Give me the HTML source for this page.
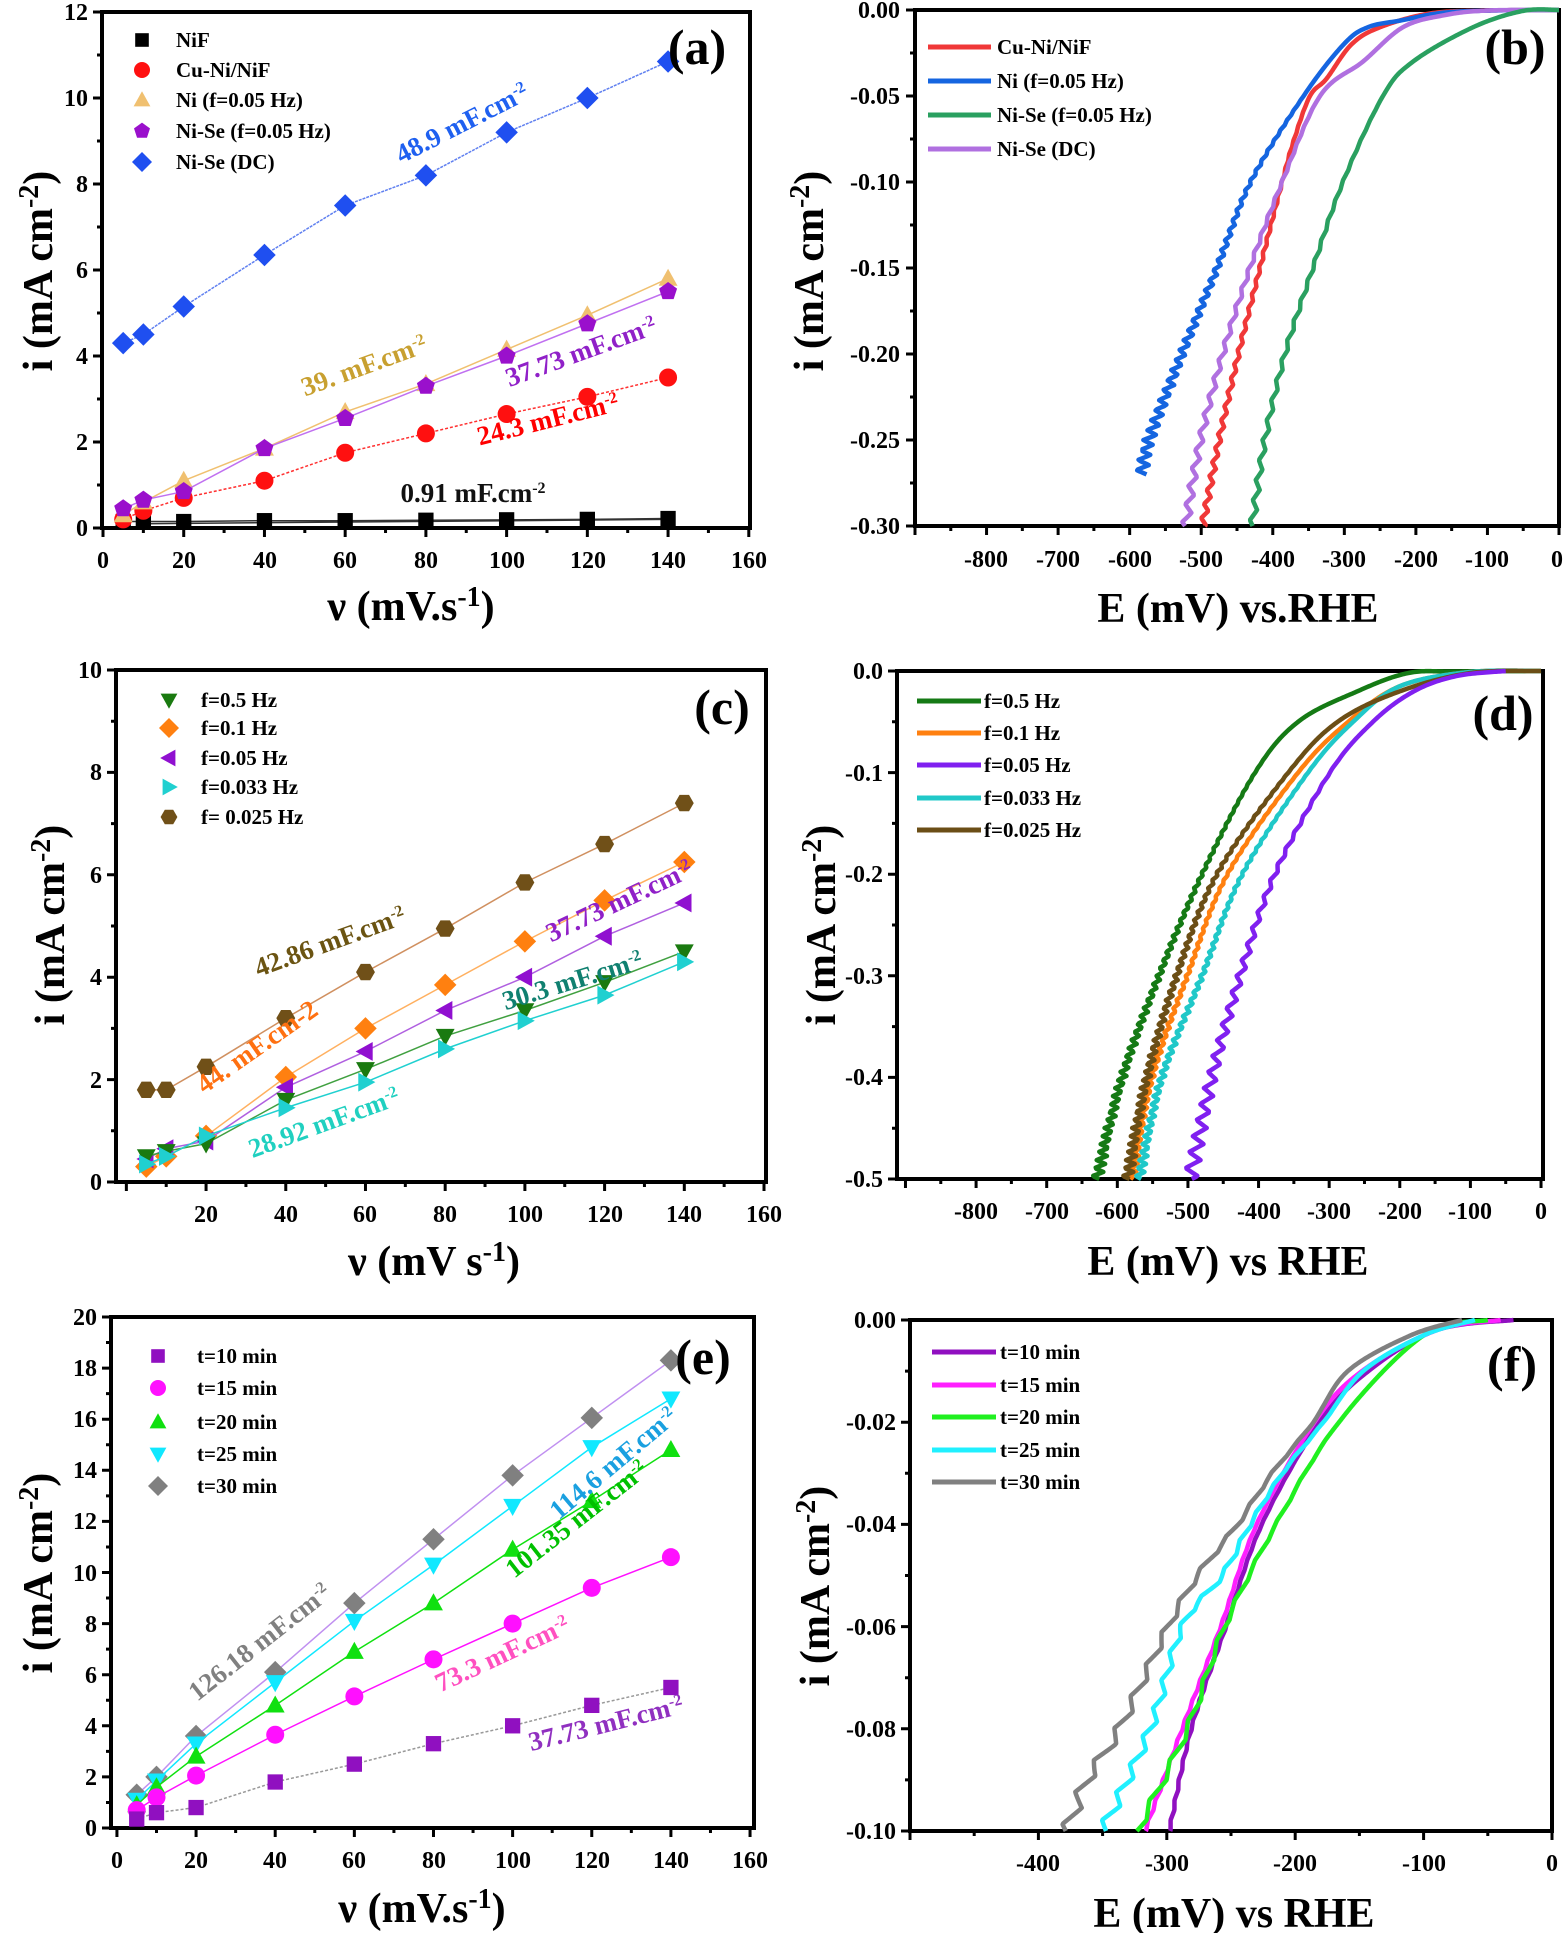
<!DOCTYPE html>
<html><head><meta charset="utf-8"><style>
body{margin:0;background:#fff}
svg{display:block}
text{font-family:"Liberation Serif",serif;font-weight:bold}
.tk{font-size:24px}
.tl{font-size:42px}
.lg{font-size:21px}
.an{font-size:27px}
.pl{font-size:50px}
</style></head><body>
<svg id="s" width="1567" height="1933" viewBox="0 0 1567 1933" xmlns="http://www.w3.org/2000/svg">
<rect width="1567" height="1933" fill="#fff"/>
<g id="g"></g>
<g class="tk" text-anchor="middle">
<text x="103" y="568">0</text><text x="184" y="568">20</text><text x="265" y="568">40</text><text x="345" y="568">60</text><text x="426" y="568">80</text><text x="507" y="568">100</text><text x="588" y="568">120</text><text x="668" y="568">140</text><text x="749" y="568">160</text>
<text x="986" y="567">-800</text><text x="1058" y="567">-700</text><text x="1130" y="567">-600</text><text x="1201" y="567">-500</text><text x="1273" y="567">-400</text><text x="1344" y="567">-300</text><text x="1416" y="567">-200</text><text x="1487" y="567">-100</text><text x="1557" y="567">0</text>
<text x="206" y="1222">20</text><text x="286" y="1222">40</text><text x="365" y="1222">60</text><text x="445" y="1222">80</text><text x="525" y="1222">100</text><text x="605" y="1222">120</text><text x="684" y="1222">140</text><text x="764" y="1222">160</text>
<text x="976" y="1219">-800</text><text x="1047" y="1219">-700</text><text x="1117" y="1219">-600</text><text x="1188" y="1219">-500</text><text x="1259" y="1219">-400</text><text x="1329" y="1219">-300</text><text x="1400" y="1219">-200</text><text x="1470" y="1219">-100</text><text x="1541" y="1219">0</text>
<text x="117" y="1868">0</text><text x="196" y="1868">20</text><text x="275" y="1868">40</text><text x="354" y="1868">60</text><text x="434" y="1868">80</text><text x="513" y="1868">100</text><text x="592" y="1868">120</text><text x="671" y="1868">140</text><text x="750" y="1868">160</text>
<text x="1038" y="1871">-400</text><text x="1167" y="1871">-300</text><text x="1295" y="1871">-200</text><text x="1424" y="1871">-100</text><text x="1552" y="1871">0</text>
</g>
<g class="tk" text-anchor="end">
<text x="88" y="536">0</text><text x="88" y="450">2</text><text x="88" y="364">4</text><text x="88" y="278">6</text><text x="88" y="192">8</text><text x="88" y="106">10</text><text x="88" y="20">12</text>
<text x="900" y="18">0.00</text><text x="900" y="104">-0.05</text><text x="900" y="190">-0.10</text><text x="900" y="276">-0.15</text><text x="900" y="362">-0.20</text><text x="900" y="448">-0.25</text><text x="900" y="534">-0.30</text>
<text x="102" y="1190">0</text><text x="102" y="1088">2</text><text x="102" y="985">4</text><text x="102" y="883">6</text><text x="102" y="780">8</text><text x="102" y="678">10</text>
<text x="883" y="679">0.0</text><text x="883" y="781">-0.1</text><text x="883" y="882">-0.2</text><text x="883" y="984">-0.3</text><text x="883" y="1085">-0.4</text><text x="883" y="1187">-0.5</text>
<text x="97" y="1836">0</text><text x="97" y="1785">2</text><text x="97" y="1734">4</text><text x="97" y="1683">6</text><text x="97" y="1632">8</text><text x="97" y="1581">10</text><text x="97" y="1529">12</text><text x="97" y="1478">14</text><text x="97" y="1427">16</text><text x="97" y="1376">18</text><text x="97" y="1325">20</text>
<text x="896" y="1328">0.00</text><text x="896" y="1430">-0.02</text><text x="896" y="1532">-0.04</text><text x="896" y="1635">-0.06</text><text x="896" y="1737">-0.08</text><text x="896" y="1839">-0.10</text>
</g>
<g class="tl" text-anchor="middle">
<text transform="translate(52,271) rotate(-90)">i (mA cm<tspan dy="-14" font-size="28">-2</tspan><tspan dy="14">)</tspan></text>
<text x="411" y="620">ν (mV.s<tspan dy="-14" font-size="28">-1</tspan><tspan dy="14">)</tspan></text>
<text transform="translate(823,271) rotate(-90)">i (mA cm<tspan dy="-14" font-size="28">-2</tspan><tspan dy="14">)</tspan></text>
<text x="1238" y="622">E (mV) vs.RHE</text>
<text transform="translate(64,925) rotate(-90)">i (mA cm<tspan dy="-14" font-size="28">-2</tspan><tspan dy="14">)</tspan></text>
<text x="434" y="1275">ν (mV s<tspan dy="-14" font-size="28">-1</tspan><tspan dy="14">)</tspan></text>
<text transform="translate(835,925) rotate(-90)">i (mA cm<tspan dy="-14" font-size="28">-2</tspan><tspan dy="14">)</tspan></text>
<text x="1228" y="1275">E (mV) vs  RHE</text>
<text transform="translate(52,1573) rotate(-90)">i (mA cm<tspan dy="-14" font-size="28">-2</tspan><tspan dy="14">)</tspan></text>
<text x="422" y="1922">ν (mV.s<tspan dy="-14" font-size="28">-1</tspan><tspan dy="14">)</tspan></text>
<text transform="translate(829,1586) rotate(-90)">i (mA cm<tspan dy="-14" font-size="28">-2</tspan><tspan dy="14">)</tspan></text>
<text x="1234" y="1927">E (mV) vs  RHE</text>
</g>
<g class="pl" text-anchor="middle">
<text x="697" y="64">(a)</text><text x="1515" y="64">(b)</text><text x="722" y="724">(c)</text><text x="1503" y="730">(d)</text><text x="703" y="1374">(e)</text><text x="1512" y="1381">(f)</text>
</g>
<g class="lg">
<text x="176" y="47">NiF</text><text x="176" y="77">Cu-Ni/NiF</text><text x="176" y="107">Ni (f=0.05 Hz)</text><text x="176" y="138">Ni-Se (f=0.05 Hz)</text><text x="176" y="169">Ni-Se (DC)</text>
<text x="997" y="54">Cu-Ni/NiF</text><text x="997" y="88">Ni (f=0.05 Hz)</text><text x="997" y="122">Ni-Se (f=0.05 Hz)</text><text x="997" y="156">Ni-Se (DC)</text>
<text x="201" y="707">f=0.5 Hz</text><text x="201" y="735">f=0.1 Hz</text><text x="201" y="765">f=0.05 Hz</text><text x="201" y="794">f=0.033 Hz</text><text x="201" y="824">f= 0.025 Hz</text>
<text x="984" y="708">f=0.5 Hz</text><text x="984" y="740">f=0.1 Hz</text><text x="984" y="772">f=0.05 Hz</text><text x="984" y="805">f=0.033 Hz</text><text x="984" y="837">f=0.025 Hz</text>
<text x="197" y="1363">t=10 min</text><text x="197" y="1395">t=15 min</text><text x="197" y="1429">t=20 min</text><text x="197" y="1461">t=25 min</text><text x="197" y="1493">t=30 min</text>
<text x="1000" y="1359">t=10 min</text><text x="1000" y="1392">t=15 min</text><text x="1000" y="1424">t=20 min</text><text x="1000" y="1457">t=25 min</text><text x="1000" y="1489">t=30 min</text>
</g>
<g class="an" text-anchor="middle">
<text transform="translate(466,131) rotate(-27)" fill="#1f60f0">48.9 mF.cm<tspan dy="-9" font-size="16">-2</tspan></text>
<text transform="translate(367,374) rotate(-20)" fill="#c8a030">39. mF.cm<tspan dy="-9" font-size="16">-2</tspan></text>
<text transform="translate(584,360) rotate(-20)" fill="#9020c8">37.73 mF.cm<tspan dy="-9" font-size="16">-2</tspan></text>
<text transform="translate(550,428) rotate(-14)" fill="#ff0000">24.3 mF.cm<tspan dy="-9" font-size="16">-2</tspan></text>
<text transform="translate(473,502)" fill="#111">0.91 mF.cm<tspan dy="-9" font-size="16">-2</tspan></text>
<text transform="translate(333,950) rotate(-20)" fill="#6b5412">42.86 mF.cm<tspan dy="-9" font-size="16">-2</tspan></text>
<text transform="translate(262,1054) rotate(-35)" fill="#ff7010">44. mF.cm-2</text>
<text transform="translate(623,909) rotate(-25)" fill="#9020c8">37.73 mF.cm<tspan dy="-9" font-size="16">-2</tspan></text>
<text transform="translate(575,989) rotate(-17)" fill="#108070">30.3 mF.cm<tspan dy="-9" font-size="16">-2</tspan></text>
<text transform="translate(327,1131) rotate(-20)" fill="#20d0c0">28.92 mF.cm<tspan dy="-9" font-size="16">-2</tspan></text>
<text transform="translate(265,1649) rotate(-38)" fill="#808080">126.18 mF.cm<tspan dy="-9" font-size="16">-2</tspan></text>
<text transform="translate(619,1470) rotate(-40)" fill="#1aa0e0">114.6 mF.cm<tspan dy="-9" font-size="16">-2</tspan></text>
<text transform="translate(582,1526) rotate(-38)" fill="#00c000">101.35 mF.cm<tspan dy="-9" font-size="16">-2</tspan></text>
<text transform="translate(506,1662) rotate(-25)" fill="#ff50c0">73.3 mF.cm<tspan dy="-9" font-size="16">-2</tspan></text>
<text transform="translate(608,1732) rotate(-14)" fill="#9030c0">37.73 mF.cm<tspan dy="-9" font-size="16">-2</tspan></text>
</g>
</svg>
<script>
var G=document.getElementById('g'),NS='http://www.w3.org/2000/svg';
function el(t,a,p){var e=document.createElementNS(NS,t);for(var k in a)e.setAttribute(k,a[k]);(p||G).appendChild(e);return e;}
function P(L,R,T,B,x0,x1,y0,y1){return{L:L,R:R,T:T,B:B,X:function(v){return L+(v-x0)/(x1-x0)*(R-L)},Y:function(v){return B-(v-y0)/(y1-y0)*(B-T)}};}
function axes(p,xm,ym){
 var d='';
 xm.forEach(function(v,i){var x=p.X(v);d+='M'+x+' '+p.B+'v9 ';if(i<xm.length-1){var xx=(x+p.X(xm[i+1]))/2;if(xx<p.R&&xx>p.L)d+='M'+xx+' '+p.B+'v5 ';}});
 ym.forEach(function(v,i){var y=p.Y(v);d+='M'+p.L+' '+y+'h-9 ';if(i<ym.length-1){var yy=(y+p.Y(ym[i+1]))/2;d+='M'+p.L+' '+yy+'h-5 ';}});
 el('path',{d:d,stroke:'#000','stroke-width':3,fill:'none'});
 el('rect',{x:p.L,y:p.T,width:p.R-p.L,height:p.B-p.T,fill:'none',stroke:'#000','stroke-width':4});
}
function mk(shape,x,y,c,s){s=s||9;
 if(shape=='sq')return el('rect',{x:x-s*0.85,y:y-s*0.85,width:s*1.7,height:s*1.7,fill:c});
 if(shape=='ci')return el('circle',{cx:x,cy:y,r:s,fill:c});
 function poly(a){return el('polygon',{points:a.map(function(q){return (x+q[0]*s)+','+(y+q[1]*s)}).join(' '),fill:c});}
 if(shape=='tu')return poly([[0,-1.1],[1.05,0.8],[-1.05,0.8]]);
 if(shape=='td')return poly([[0,1.1],[1.05,-0.8],[-1.05,-0.8]]);
 if(shape=='tl')return poly([[-1.1,0],[0.8,-1.05],[0.8,1.05]]);
 if(shape=='tr')return poly([[1.1,0],[-0.8,-1.05],[-0.8,1.05]]);
 if(shape=='di')return poly([[0,-1.25],[1.25,0],[0,1.25],[-1.25,0]]);
 var n=shape=='pe'?5:6,a=[];for(var i=0;i<n;i++){var t=-Math.PI/2+i*2*Math.PI/n+(n==6?Math.PI/6:0);a.push([Math.cos(t)*1.05,Math.sin(t)*1.05]);}return poly(a);
}
function scatter(p,vx,ys,shape,c,lc,dash){
 var pts=vx.map(function(v,i){return [p.X(v),p.Y(ys[i])]});
 el('polyline',{points:pts.join(' '),fill:'none',stroke:lc||c,'stroke-width':1.5,'stroke-dasharray':dash||'none'});
 pts.forEach(function(q){mk(shape,q[0],q[1],c)});
}
function lsv(p,data,c,A,per){
 var raw=data.map(function(d){return [p.X(d[0]),p.Y(d[1])]}),out=[],N=raw.length;
 for(var i=0;i<N-1;i++){var p0=raw[Math.max(0,i-1)],p1=raw[i],p2=raw[i+1],p3=raw[Math.min(N-1,i+2)];
  var len=Math.hypot(p2[0]-p1[0],p2[1]-p1[1]);var n=Math.max(4,Math.ceil(len/1.5));
  for(var k=0;k<n;k++){var t=k/n,t2=t*t,t3=t2*t;
   var f=function(j){return 0.5*((2*p1[j])+(-p0[j]+p2[j])*t+(2*p0[j]-5*p1[j]+4*p2[j]-p3[j])*t2+(-p0[j]+3*p1[j]-3*p2[j]+p3[j])*t3);};
   out.push([f(0),f(1)]);}}
 out.push(raw[N-1]);
 var y0=p.T+(p.B-p.T)*0.15;
 out=out.map(function(q){var w=Math.max(0,Math.min(1,(q[1]-y0)/(p.B-y0)));var ph=(q[1]/per)%1;var tri=ph<0.5?ph*4-1:3-ph*4;return [q[0]+A*w*tri,q[1]];});
 el('polyline',{points:out.join(' '),fill:'none',stroke:c,'stroke-width':4.5,'stroke-linejoin':'round'});
}
var V=[5,10,20,40,60,80,100,120,140];
var a=P(102,750,12,528,-0.25,160.3,0,12);
axes(a,[0,20,40,60,80,100,120,140,160],[0,2,4,6,8,10,12]);
el('line',{x1:a.X(10),y1:a.Y(0.1),x2:a.X(140),y2:a.Y(0.2),stroke:'#333','stroke-width':1.5});
scatter(a,V,[0.15,0.15,0.15,0.17,0.17,0.18,0.19,0.2,0.22],'sq','#000','#333');
scatter(a,V,[0.2,0.4,0.7,1.1,1.75,2.2,2.65,3.05,3.5],'ci','#ff1010','#ff3030','3 2');
scatter(a,V,[0.3,0.6,1.1,1.85,2.7,3.35,4.15,4.95,5.8],'tu','#f0c070');
scatter(a,V,[0.45,0.65,0.85,1.85,2.55,3.3,4.0,4.75,5.5],'pe','#9a10cc','#c070f0');
scatter(a,V,[4.3,4.5,5.15,6.35,7.5,8.2,9.2,10.0,10.85],'di','#1f4ff0','#6080f0','3 1');
[['sq','#000'],['ci','#ff1010'],['tu','#f0c070'],['pe','#9a10cc'],['di','#1f4ff0']].forEach(function(m,i){mk(m[0],142,[40,70,100,131,162][i],m[1],8)});
var b=P(915,1559,10,526,-900,0,-0.3,0);
axes(b,[-900,-800,-700,-600,-500,-400,-300,-200,-100,0],[-0.3,-0.25,-0.2,-0.15,-0.1,-0.05,0]);
lsv(b,[[0,0],[-100,-0.0003],[-180,-0.002],[-250,-0.01],[-290,-0.02],[-325,-0.04],[-348,-0.05],[-370,-0.075],[-387,-0.1],[-418,-0.15],[-448,-0.2],[-475,-0.25],[-498,-0.3]],'#f03838',3,14);
lsv(b,[[0,0],[-80,-0.0002],[-160,-0.0015],[-220,-0.006],[-267,-0.01],[-301,-0.02],[-357,-0.05],[-431,-0.1],[-478,-0.15],[-527,-0.2],[-573,-0.25],[-583,-0.27]],'#1565e0',7,10);
lsv(b,[[0,0],[-100,-0.0003],[-160,-0.003],[-218,-0.01],[-274,-0.03],[-334,-0.05],[-387,-0.1],[-432,-0.15],[-470,-0.2],[-501,-0.25],[-522,-0.3]],'#b070e0',4,18);
lsv(b,[[0,0],[-50,-0.0005],[-120,-0.01],[-204,-0.03],[-246,-0.05],[-302,-0.1],[-344,-0.15],[-383,-0.2],[-411,-0.25],[-429,-0.3]],'#2aa060',3,20);
['#f03838','#1565e0','#2aa060','#b070e0'].forEach(function(c,i){var y=[47,81,115,149][i];el('line',{x1:928,y1:y,x2:991,y2:y,stroke:c,'stroke-width':5});});
var c=P(116,766,670,1182,-2.6,160.5,0,10);
axes(c,[0,20,40,60,80,100,120,140,160],[0,2,4,6,8,10]);
scatter(c,V,[1.8,1.8,2.25,3.2,4.1,4.95,5.85,6.6,7.4],'hx','#705018','#d09060');
scatter(c,V,[0.3,0.5,0.9,2.05,3.0,3.85,4.7,5.5,6.25],'di','#ff8010','#ffb060');
scatter(c,V,[0.45,0.65,0.8,1.85,2.55,3.35,4.0,4.8,5.45],'tl','#9010d0','#b060e0');
scatter(c,V,[0.5,0.6,0.75,1.6,2.2,2.85,3.35,3.9,4.5],'td','#1a7a10','#40a040');
scatter(c,V,[0.35,0.5,0.9,1.45,1.95,2.6,3.15,3.65,4.3],'tr','#20d0d0');
[['td','#1a7a10'],['di','#ff8010'],['tl','#9010d0'],['tr','#20d0d0'],['hx','#705018']].forEach(function(m,i){mk(m[0],169,[700,728,758,787,817][i],m[1],8)});
var d=P(897,1543,671,1179,-912,2.8,-0.5,0);
axes(d,[-900,-800,-700,-600,-500,-400,-300,-200,-100,0],[-0.5,-0.4,-0.3,-0.2,-0.1,0]);
lsv(d,[[0,0],[-120,-0.0005],[-188,-0.002],[-260,-0.02],[-344,-0.05],[-405,-0.1],[-480,-0.2],[-541,-0.3],[-593,-0.4],[-629,-0.5]],'#157a15',5,8);
lsv(d,[[0,0],[-100,-0.001],[-200,-0.015],[-273,-0.05],[-344,-0.1],[-444,-0.2],[-501,-0.3],[-551,-0.4],[-579,-0.5]],'#ff8010',3,8);
lsv(d,[[0,0],[-100,-0.001],[-200,-0.015],[-266,-0.05],[-330,-0.1],[-423,-0.2],[-480,-0.3],[-537,-0.4],[-569,-0.5]],'#20c8c8',4,8);
lsv(d,[[0,0],[-100,-0.002],[-200,-0.02],[-288,-0.05],[-358,-0.1],[-459,-0.2],[-516,-0.3],[-558,-0.4],[-586,-0.5]],'#6b4e16',5,8);
lsv(d,[[-50,0],[-120,-0.005],[-180,-0.02],[-238,-0.05],[-299,-0.1],[-377,-0.2],[-426,-0.3],[-466,-0.4],[-497,-0.5]],'#8020f0',7,16);
['#157a15','#ff8010','#8020f0','#20c8c8','#6b4e16'].forEach(function(cc,i){var y=[701,733,765,798,830][i];el('line',{x1:917,y1:y,x2:981,y2:y,stroke:cc,'stroke-width':5});});
var e=P(111,754,1317,1828,-1.5,161,0,20);
axes(e,[0,20,40,60,80,100,120,140,160],[0,2,4,6,8,10,12,14,16,18,20]);
scatter(e,V,[1.3,2.0,3.6,6.1,8.8,11.3,13.8,16.05,18.3],'di','#808080','#c090f0');
scatter(e,V,[1.1,1.85,3.3,5.7,8.1,10.3,12.6,14.9,16.8],'td','#10e8ff');
scatter(e,V,[0.9,1.6,2.8,4.8,6.9,8.8,10.9,12.8,14.8],'tu','#10e010');
scatter(e,V,[0.7,1.2,2.05,3.65,5.15,6.6,8.0,9.4,10.6],'ci','#ff10ff');
scatter(e,V,[0.35,0.6,0.8,1.8,2.5,3.3,4.0,4.8,5.5],'sq','#9010c0','#999','3 2');
[['sq','#9010c0'],['ci','#ff10ff'],['tu','#10e010'],['td','#10e8ff'],['di','#808080']].forEach(function(m,i){mk(m[0],158,[1356,1388,1422,1454,1486][i],m[1],8)});
var f=P(910,1552,1320,1831,-500,0,-0.1,0);
axes(f,[-500,-400,-300,-200,-100,0],[-0.1,-0.08,-0.06,-0.04,-0.02,0]);
lsv(f,[[-30,0],[-90,-0.002],[-143,-0.01],[-181,-0.02],[-226,-0.04],[-254,-0.06],[-281,-0.08],[-298,-0.1]],'#9010c0',1,20);
lsv(f,[[-40,0],[-90,-0.002],[-148,-0.01],[-185,-0.02],[-230,-0.04],[-258,-0.06],[-288,-0.08],[-317,-0.1]],'#ff20ff',1,20);
lsv(f,[[-50,0],[-100,-0.003],[-166,-0.02],[-215,-0.04],[-255,-0.06],[-284,-0.08],[-323,-0.1]],'#20f020',4,40);
lsv(f,[[-60,0],[-100,-0.003],[-147,-0.01],[-178,-0.02],[-210,-0.03],[-235,-0.04],[-257,-0.05],[-288,-0.06],[-313,-0.08],[-350,-0.1]],'#20f0ff',6,28);
lsv(f,[[-70,0],[-110,-0.003],[-159,-0.01],[-186,-0.02],[-218,-0.03],[-245,-0.04],[-276,-0.05],[-299,-0.06],[-337,-0.08],[-362,-0.09],[-378,-0.1]],'#808080',7,32);
['#9010c0','#ff20ff','#20f020','#20f0ff','#808080'].forEach(function(cc,i){var y=[1352,1385,1417,1450,1482][i];el('line',{x1:932,y1:y,x2:996,y2:y,stroke:cc,'stroke-width':5});});
</script>
</body></html>
